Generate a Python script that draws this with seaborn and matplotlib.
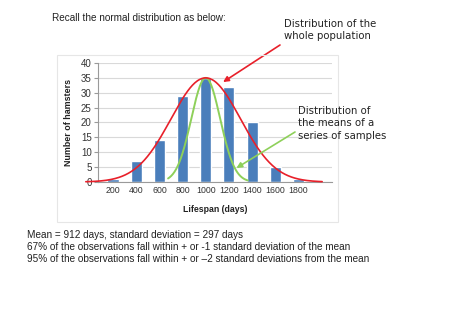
import numpy as np
import pandas as pd
import matplotlib
matplotlib.use("Agg")
import matplotlib.pyplot as plt
import seaborn as sns
from matplotlib.patches import Rectangle

# Hamster lifespans (days) and counts
lifespan = [200, 400, 600, 800, 1000, 1200, 1400, 1600, 1800]
hamsters = [1, 7, 14, 29, 35, 32, 20, 5, 1]
y_ticks = [0, 5, 10, 15, 20, 25, 30, 35, 40]

# Normal curves sketched over the histogram
curve_peak = 35
pop_centre, pop_sd = 1000, 300        # whole population
means_centre, means_sd = 1000, 125    # means of a series of samples

notes = [
    "Mean = 912 days, standard deviation = 297 days",
    "67% of the observations fall within + or -1 standard deviation of the mean",
    "95% of the observations fall within + or \u20132 standard deviations from the mean",
]

sns.set_theme(style="white")
plt.rcParams["font.family"] = ["DejaVu Sans"]

W, H = 474, 335
fig = plt.figure(figsize=(W / 100, H / 100), dpi=100)
fig.patch.set_facecolor("white")

# faint chart frame
fig.patches.append(Rectangle((57 / W, 1 - 222 / H), (338 - 57) / W, (222 - 55) / H,
                             transform=fig.transFigure, fill=False,
                             edgecolor="#e6e6e6", linewidth=0.8, zorder=0))

ax = fig.add_axes([98 / W, 1 - 182 / H, (332 - 98) / W, (182 - 63) / H])
df = pd.DataFrame({"lifespan": lifespan, "hamsters": hamsters})
sns.barplot(data=df, x="lifespan", y="hamsters", native_scale=True,
            color="#4a7ebb", saturation=1, width=0.48, ax=ax, zorder=2)

ax.set_xlim(70, 2090)
ax.set_ylim(0, 40)
ax.set_yticks(y_ticks)
ax.set_xticks(lifespan)
ax.set_xticklabels([str(v) for v in lifespan], family="Liberation Sans")
ax.set_yticklabels([str(v) for v in y_ticks], family="Liberation Sans")
ax.grid(axis="y", color="#d9d9d9", linewidth=0.8, zorder=0)
ax.set_axisbelow(True)
for s in ["top", "right"]:
    ax.spines[s].set_visible(False)
ax.spines["left"].set_color("#9a9a9a")
ax.spines["bottom"].set_color("#9a9a9a")
ax.spines["left"].set_linewidth(0.8)
ax.spines["bottom"].set_linewidth(0.8)
ax.tick_params(axis="y", labelsize=7.0, colors="#9a9a9a", length=3, width=0.8,
               labelcolor="#333333", pad=1.5, left=True)
ax.tick_params(axis="x", labelsize=6.3, length=0, labelcolor="#333333", pad=3)

ax.set_xlabel("Lifespan (days)", fontsize=6.3, fontweight="bold", family="Liberation Sans",
              color="#222222", labelpad=7)
ax.set_ylabel("Number of hamsters", fontsize=6.4, fontweight="bold", family="Liberation Sans",
              color="#222222", labelpad=6)

# population curve
xs = np.linspace(pop_centre - 3.45 * pop_sd, pop_centre + 3.35 * pop_sd, 300)
ys = curve_peak * np.exp(-0.5 * ((xs - pop_centre) / pop_sd) ** 2)
ax.plot(xs, ys, color="#e8202a", linewidth=1.2, clip_on=False, zorder=4)

# sample-means curve
xg = np.linspace(means_centre - 2.6 * means_sd, means_centre + 2.9 * means_sd, 200)
yg = curve_peak * np.exp(-0.5 * ((xg - means_centre) / means_sd) ** 2)
ax.plot(xg, yg, color="#8ed05a", linewidth=1.4, clip_on=False, zorder=3)

# labels with arrows
ax.annotate("", xy=(1150, 33.6), xytext=(280, H - 45), textcoords="figure pixels",
            arrowprops=dict(arrowstyle="-|>", color="#e8202a", lw=1.2, mutation_scale=8,
                            shrinkA=0, shrinkB=0),
            annotation_clip=False, zorder=5)
ax.annotate("", xy=(1265, 4.7), xytext=(295, H - 132), textcoords="figure pixels",
            arrowprops=dict(arrowstyle="-|>", color="#8ed05a", lw=1.2, mutation_scale=8,
                            shrinkA=0, shrinkB=0),
            annotation_clip=False, zorder=5)
fig.text(284 / W, 1 - 19 / H, "Distribution of the\nwhole population", fontsize=7.3,
         color="#222222", va="top", ha="left", linespacing=1.3)

fig.text(298 / W, 1 - 106 / H, "Distribution of\nthe means of a\nseries of samples", fontsize=7.3,
         color="#222222", va="top", ha="left", linespacing=1.3)

fig.text(52 / W, 1 - 18 / H, "Recall the normal distribution as below:", fontsize=7.2,
         family="Liberation Sans", color="#222222", va="center", ha="left")

for i, line in enumerate(notes):
    fig.text(27 / W, 1 - (235 + i * 12) / H, line, fontsize=7.2,
             family="Liberation Sans", color="#222222", va="center", ha="left")

fig.savefig("out.png", dpi=100)
